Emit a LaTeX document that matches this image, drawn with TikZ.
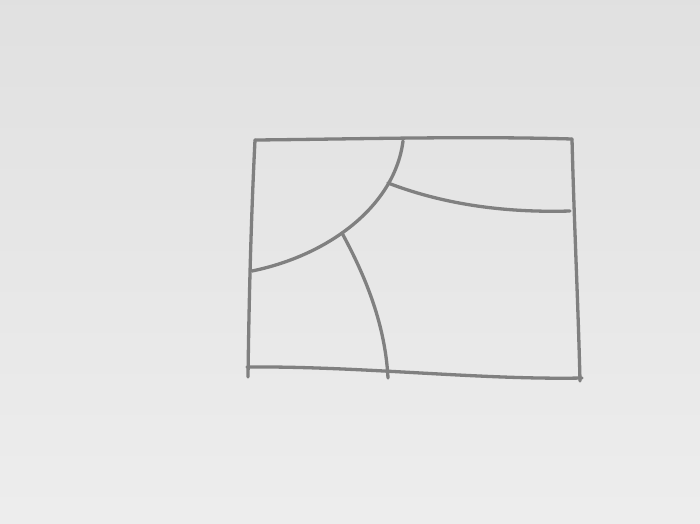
\documentclass[tikz,border=0pt]{standalone}
\begin{document}
\begin{tikzpicture}[x=1pt,y=-1pt,
  pen/.style={draw=black!50,line width=3.3pt,line cap=round,line join=round}]
\shade[top color=black!12,bottom color=black!7] (0,0) rectangle (700,523);
\useasboundingbox (0,0) rectangle (700,523);
% outer frame
\draw[pen] (255,140) .. controls (360,139) and (470,136) .. (572,139);
\draw[pen] (255,140) .. controls (251,220) and (249,300) .. (248,377);
\draw[pen] (247,367) .. controls (360,366) and (480,380) .. (582,378);
\draw[pen] (572,139) .. controls (574,220) and (578,300) .. (580,381);
% inner curves
\draw[pen] (403,141) .. controls (395,205) and (330,255) .. (252,271);
\draw[pen] (388,183) .. controls (440,203) and (500,213) .. (570,211);
\draw[pen] (342,233) .. controls (362,270) and (385,320) .. (388,378);
\end{tikzpicture}
\end{document}
